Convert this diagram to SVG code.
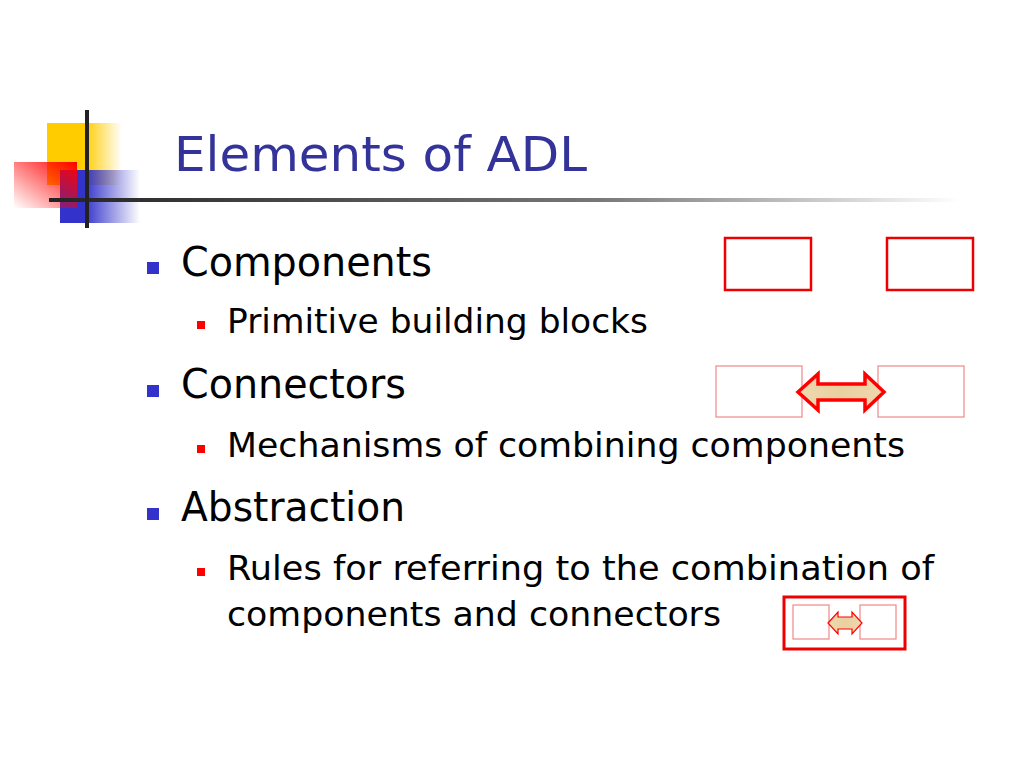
<svg xmlns="http://www.w3.org/2000/svg" width="1024" height="768" viewBox="0 0 1024 768">
<defs>
<linearGradient id="gy" x1="0" x2="1" y1="0" y2="0"><stop offset="0.5" stop-color="#ffcc00"/><stop offset="1" stop-color="#ffcc00" stop-opacity="0"/></linearGradient>
<linearGradient id="gb" x1="0" x2="1" y1="0" y2="0"><stop offset="0.3" stop-color="#3333cc"/><stop offset="1" stop-color="#3333cc" stop-opacity="0"/></linearGradient>
<linearGradient id="gr" x1="1" x2="0" y1="0" y2="1"><stop offset="0" stop-color="#ff0000"/><stop offset="1" stop-color="#ff0000" stop-opacity="0"/></linearGradient>
<linearGradient id="gl" x1="0" x2="1" y1="0" y2="0"><stop offset="0" stop-color="#222"/><stop offset="0.6" stop-color="#777"/><stop offset="1" stop-color="#fff"/></linearGradient>
<linearGradient id="ga" x1="0" x2="1"><stop offset="0" stop-color="#f0d8b0"/><stop offset="0.5" stop-color="#e8d0a0"/><stop offset="1" stop-color="#f0d8b0"/></linearGradient>
</defs>
<style>
.t{font-family:Tahoma,"DejaVu Sans",sans-serif;fill:#000}
.b{fill:#3333cc}.s{fill:#ff0000}
.box{fill:#fff;stroke:#ee0000;stroke-width:2.5}
.lbox{fill:#fff;stroke:#ee8888;stroke-width:1.2}
.arr{fill:url(#ga);stroke:#ff0000}
</style>
<g id="logo">
<rect x="47" y="123" width="75" height="62" fill="url(#gy)"/>
<rect x="60" y="170" width="80" height="53" fill="url(#gb)"/>
<rect x="14" y="162" width="63" height="46" fill="url(#gr)"/>
<rect x="49" y="198" width="911" height="4" fill="url(#gl)"/>
<rect x="85" y="110" width="4" height="118" fill="#222"/>
</g>
<text class="t" x="174" y="171" font-size="48" style="fill:#333399" textLength="413" lengthAdjust="spacingAndGlyphs">Elements of ADL</text>
<g id="bullets">
<rect class="b" x="147" y="262" width="12" height="12"/>
<rect class="b" x="147" y="385" width="12" height="12"/>
<rect class="b" x="147" y="508" width="12" height="12"/>
<rect class="s" x="197" y="321" width="8" height="8"/>
<rect class="s" x="197" y="445" width="8" height="8"/>
<rect class="s" x="197" y="568" width="8" height="8"/>
</g>
<g id="text" class="t">
<text x="181" y="276" font-size="40" textLength="251" lengthAdjust="spacingAndGlyphs">Components</text>
<text x="227" y="333" font-size="33" textLength="421" lengthAdjust="spacingAndGlyphs">Primitive building blocks</text>
<text x="181" y="398" font-size="40" textLength="225" lengthAdjust="spacingAndGlyphs">Connectors</text>
<text x="227" y="457" font-size="33" textLength="678" lengthAdjust="spacingAndGlyphs">Mechanisms of combining components</text>
<text x="181" y="521" font-size="40" textLength="224" lengthAdjust="spacingAndGlyphs">Abstraction</text>
<text x="227" y="580" font-size="33" textLength="707" lengthAdjust="spacingAndGlyphs">Rules for referring to the combination of</text>
<text x="227" y="626" font-size="33" textLength="494" lengthAdjust="spacingAndGlyphs">components and connectors</text>
</g>
<g id="comp1"><rect class="box" x="725" y="238" width="86" height="52"/></g>
<g id="comp2"><rect class="box" x="887" y="238" width="86" height="52"/></g>
<g id="conn">
<rect class="lbox" x="716" y="366" width="86" height="51"/>
<rect class="lbox" x="878" y="366" width="86" height="51"/>
<path class="arr" stroke-width="3.5" d="M798,392 L818,374 L818,384 L865,384 L865,374 L884,392 L865,410 L865,400 L818,400 L818,410 Z"/>
</g>
<g id="abs">
<rect fill="#fff" stroke="#ee0000" stroke-width="3" x="784" y="597" width="121" height="52"/>
<rect class="lbox" x="793" y="605" width="36" height="34"/>
<rect class="lbox" x="860" y="605" width="36" height="34"/>
<path class="arr" stroke-width="1.2" stroke="#ee6666" d="M828,623 L838,612 L838,617 L852,617 L852,612 L862,623 L852,634 L852,629 L838,629 L838,634 Z"/>
</g>
</svg>
